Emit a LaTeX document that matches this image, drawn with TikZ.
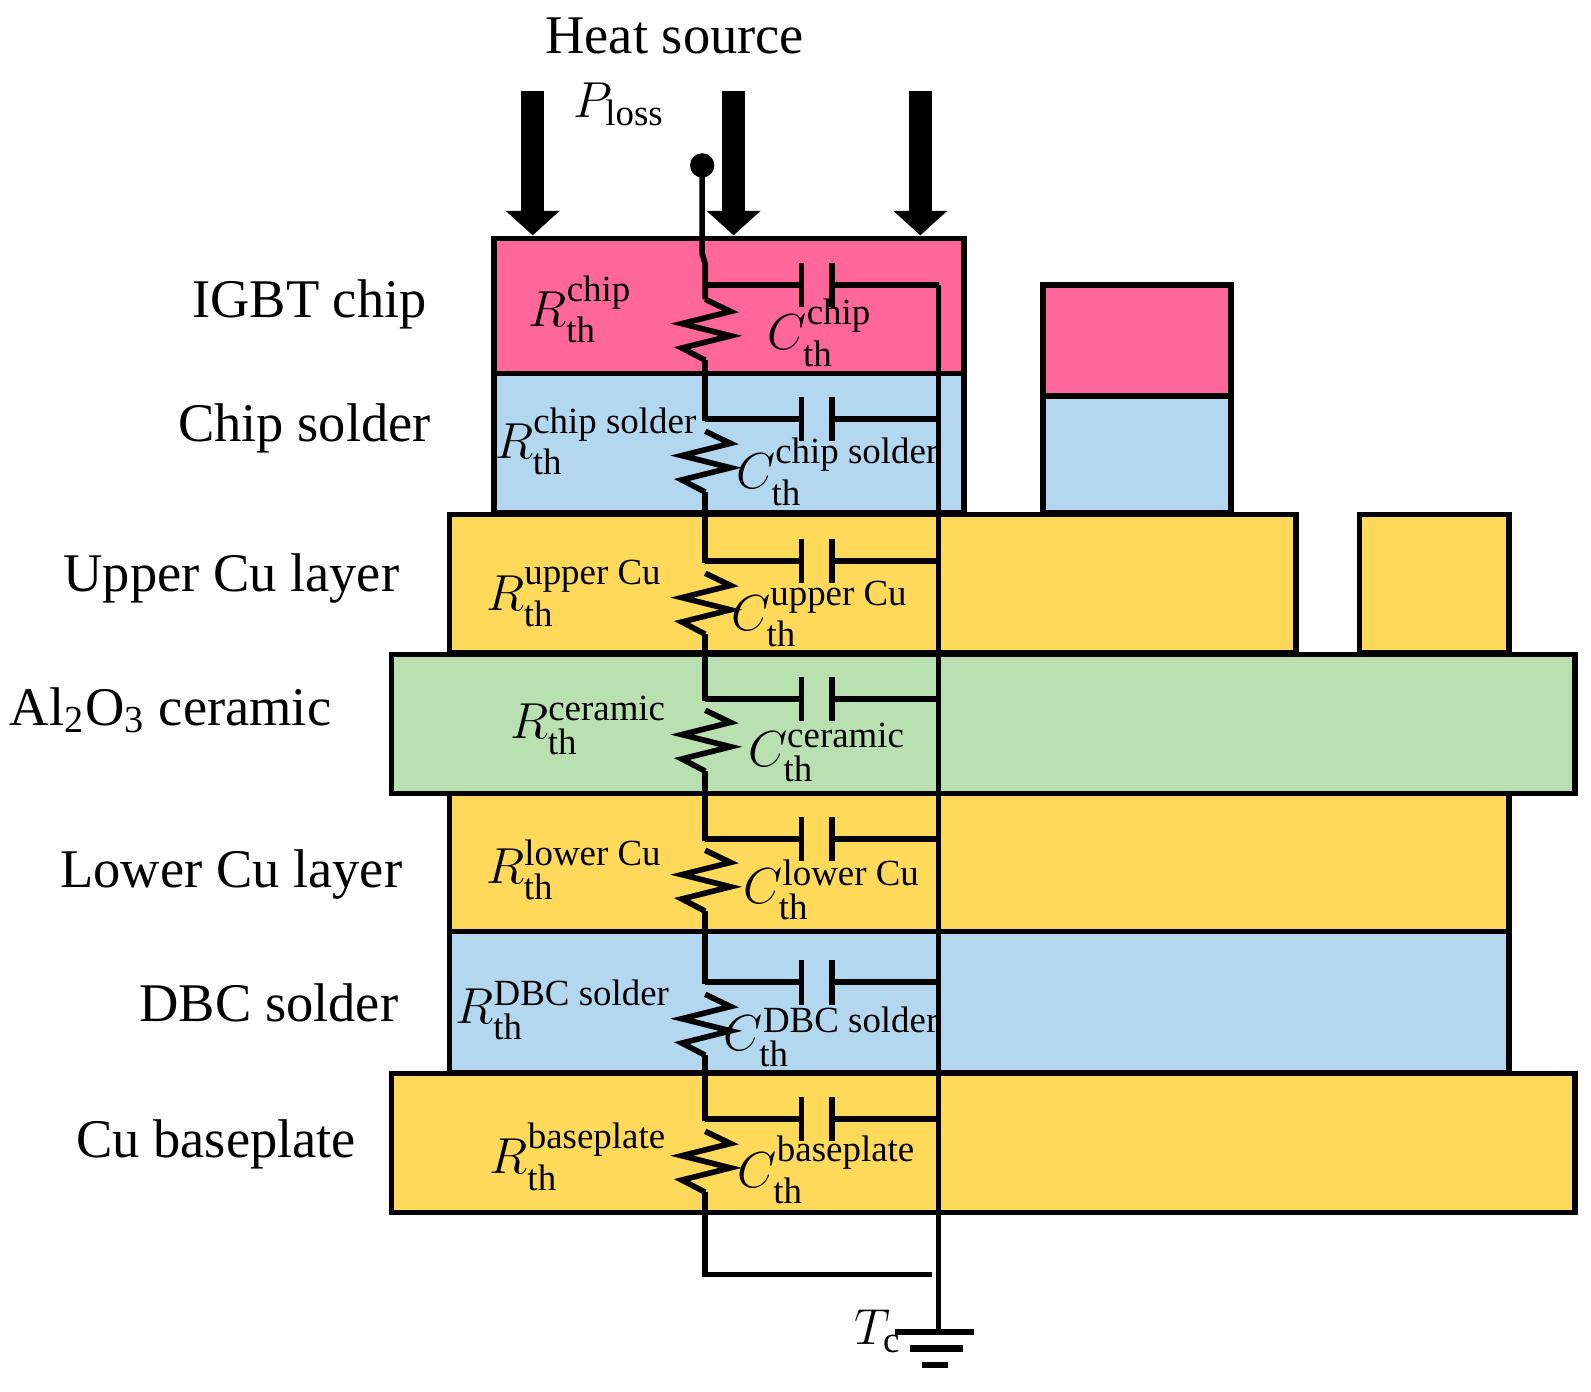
\documentclass[tikz,border=0pt]{standalone}
\usepackage{amsmath}
\usepackage{fontspec}
\setmainfont{Liberation Serif}
\usetikzlibrary{arrows.meta}
\definecolor{chippink}{HTML}{FF6699}
\definecolor{solderblue}{HTML}{B3D7EF}
\definecolor{cuyellow}{HTML}{FFD95A}
\definecolor{ceramicgreen}{HTML}{B8E0B0}
\tikzset{
  layer/.style={draw=black,line width=1.6pt},
  wire/.style={line width=1.6pt},
  heat/.style={line width=6.5pt,-{Triangle[length=7pt,width=15pt]}},
  layername/.style={font=\fontsize{15.5}{18}\selectfont},
  val/.style={font=\fontsize{15}{18}\selectfont,inner sep=0pt}
}
\newcommand{\zig}[1]{% resistor zigzag centred at y=#1
  \draw[wire] (695,#1-30) -- (720,#1-18) -- (672,#1-6) -- (720,#1+6) -- (672,#1+18) -- (695,#1+30);}
\newcommand{\capbranch}[1]{% capacitor branch at y=#1
  \draw[wire] (695,#1) -- (790,#1) (790,#1-22) -- (790,#1+22)
              (820,#1-22) -- (820,#1+22) (820,#1) -- (925,#1);}
\begin{document}
\begin{tikzpicture}[x=0.01015cm,y=-0.01015cm]
  \useasboundingbox (0,0) rectangle (1568,1371);

  % layers
  \draw[layer,fill=chippink] (487,235) rectangle (950,368);
  \draw[layer,fill=chippink] (1028,281) rectangle (1213,390);
  \draw[layer,fill=solderblue] (487,368) rectangle (950,505);
  \draw[layer,fill=solderblue] (1028,390) rectangle (1213,505);
  \draw[layer,fill=cuyellow] (443,507) rectangle (1277,643);
  \draw[layer,fill=cuyellow] (1340,507) rectangle (1487,643);
  \draw[layer,fill=ceramicgreen] (386,645) rectangle (1552,782);
  \draw[layer,fill=cuyellow] (443,782) rectangle (1487,918);
  \draw[layer,fill=solderblue] (443,918) rectangle (1487,1057);
  \draw[layer,fill=cuyellow] (386,1058) rectangle (1552,1195);

  % heat arrows
  \foreach \hx in {525,723,907}
    \draw[heat] (\hx,90) -- (\hx,232);
  \node[layername] (heat) at (665,35) {Heat source};
  \node[val] (ploss) at (610,103) {$P_{\text{loss}}$};

  % left wire with resistors
  \fill (692,163) circle (12);
  \coordinate (top) at (692,163);
  \draw[wire] (top) -- (692,250) -- (695,260) -- (695,295);
  \foreach \ry/\ny in {325/413,455/553,595/689,730/827,868/968,1010/1103}
    {\zig{\ry} \draw[wire] (695,\ry+30) -- (695,\ny+2);}
  \zig{1145}
  \draw[wire] (695,1175) -- (695,1256) -- (919,1256);

  % capacitors and right wire
  \foreach \cy in {281,413,553,689,827,968,1103}
    \capbranch{\cy}
  \coordinate (gnd) at (925,1313);
  \draw[wire] (925,281) -- (gnd);
  \draw[line width=1.8pt] (882,1313) -- (960,1313) (897,1329) -- (949,1329) (909,1345) -- (934,1345);
  \node[val] (tc) at (865,1312) {$T_{\mathrm{c}}$};

  % layer names
  \node[layername] (n1) at (305,300) {IGBT chip};
  \node[layername] (n2) at (300,422) {Chip solder};
  \node[layername] (n3) at (228,570) {Upper Cu layer};
  \node[layername] (n4) at (168,700) {Al\textsubscript{2}O\textsubscript{3} ceramic};
  \node[layername] (n5) at (228,862) {Lower Cu layer};
  \node[layername] (n6) at (265,988) {DBC solder};
  \node[layername] (n7) at (213,1128) {Cu baseplate};

  % R and C values
  \node[val] (r1) at (572,305) {$R_{\text{th}}^{\text{chip}}$};
  \node[val] (r2) at (588,435) {$R_{\text{th}}^{\text{chip solder}}$};
  \node[val] (r3) at (566,585) {$R_{\text{th}}^{\text{upper Cu}}$};
  \node[val] (r4) at (580,715) {$R_{\text{th}}^{\text{ceramic}}$};
  \node[val] (r5) at (566,857) {$R_{\text{th}}^{\text{lower Cu}}$};
  \node[val] (r6) at (555,995) {$R_{\text{th}}^{\text{DBC solder}}$};
  \node[val] (r7) at (570,1140) {$R_{\text{th}}^{\text{baseplate}}$};
  \node[val] (c1) at (808,328) {$C_{\text{th}}^{\text{chip}}$};
  \node[val] (c2) at (826,465) {$C_{\text{th}}^{\text{chip solder}}$};
  \node[val] (c3) at (808,605) {$C_{\text{th}}^{\text{upper Cu}}$};
  \node[val] (c4) at (815,742) {$C_{\text{th}}^{\text{ceramic}}$};
  \node[val] (c5) at (820,877) {$C_{\text{th}}^{\text{lower Cu}}$};
  \node[val] (c6) at (820,1022) {$C_{\text{th}}^{\text{DBC solder}}$};
  \node[val] (c7) at (815,1153) {$C_{\text{th}}^{\text{baseplate}}$};
\end{tikzpicture}
\end{document}
